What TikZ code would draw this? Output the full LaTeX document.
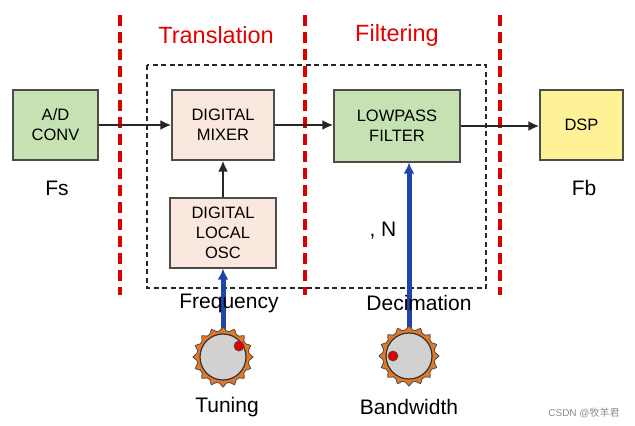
\documentclass[tikz,border=0pt]{standalone}
\usepackage{fontspec}
\setmainfont{Liberation Sans}
\newfontfamily\cjk{Noto Sans CJK SC}
\usetikzlibrary{arrows.meta}
\definecolor{grn}{RGB}{199,226,178}
\definecolor{pnk}{RGB}{250,231,222}
\definecolor{yel}{RGB}{255,241,150}
\definecolor{kblue}{RGB}{30,70,170}
\definecolor{org}{RGB}{228,120,40}
\tikzset{
 blk/.style={draw=black!70,line width=1.2pt,align=center,inner sep=0pt,font=\fontsize{16.5}{20}\selectfont},
 reddash/.style={red!85!black,line width=3.2pt,dash pattern=on 11pt off 6pt},
 sig/.style={-{Latex[length=11pt,width=10pt]},line width=2.6pt,black!85},
 ctl/.style={-{Latex[length=11pt,width=11pt]},line width=5pt,kblue},
 lbl/.style={font=\fontsize{21}{24}\selectfont},
 title/.style={font=\fontsize{23.5}{26}\selectfont,text=red!90!black}
}
\newcommand{\myknob}[4]{%
 \fill[org,draw=black!70,line width=0.8pt] plot[smooth cycle,samples=48,domain=0:352.5,variable=\t] ({#1+(27.5+2.5*cos(16*\t))*cos(\t)},{#2+(27.5+2.5*cos(16*\t))*sin(\t)});
 \fill[black!18,draw=black!80,line width=1.2pt] (#1,#2) circle (23);
 \fill[red!90!black,draw=black!70,line width=0.7pt] (#3,#4) circle (5);}
\begin{document}
\begin{tikzpicture}[x=1pt,y=-1pt]
\useasboundingbox (0,0) rectangle (635,426);
\foreach \x in {120,305,500} \draw[reddash] (\x,15) -- (\x,295);
\draw[black!85,line width=1.6pt,dash pattern=on 5pt off 3.5pt] (147,65) rectangle (486,288);
\node[blk,fill=grn,minimum width=85pt,minimum height=70pt] (ad) at (55.5,125) {A/D\\CONV};
\node[blk,fill=pnk,minimum width=102pt,minimum height=70pt] (mix) at (223,125) {DIGITAL\\MIXER};
\node[blk,fill=pnk,minimum width=106pt,minimum height=70pt] (osc) at (223,233) {DIGITAL\\LOCAL\\OSC};
\node[blk,fill=grn,minimum width=126pt,minimum height=72pt] (lpf) at (397,126) {LOWPASS\\FILTER};
\node[blk,fill=yel,minimum width=83pt,minimum height=70pt] (dsp) at (581.5,125) {DSP};
\coordinate (k1) at (223,357);
\coordinate (k2) at (409,356);
\draw[sig] (ad.east) -- (mix.west);
\draw[sig] (mix.east) -- (mix.east -| lpf.west);
\draw[sig] (lpf.east) -- (lpf.east -| dsp.west);
\draw[sig] (osc.north) -- (mix.south);
\draw[ctl] (223,332) -- (k1 |- osc.south);
\draw[ctl] (409,331) -- (k2 |- lpf.south);
\myknob{223}{357}{239}{346}
\myknob{409}{356}{393}{356}
\node[title] (tr) at (216,35) {Translation};
\node[title] (fi) at (397,35) {Filtering};
\node[lbl] (fs) at (57,188) {Fs};
\node[lbl] (fb) at (584,188) {Fb};
\node[lbl] (fr) at (229,303) {Frequency};
\node[lbl] (de) at (419,303) {Decimation};
\node[lbl] (cn) at (383,231) {, N};
\node[lbl] (tu) at (227,407) {Tuning};
\node[lbl] (bw) at (409,407) {Bandwidth};
\node[font=\fontsize{10}{11}\selectfont,text=black!45] (wm) at (584,413) {CSDN @{\cjk 牧羊君}};
\end{tikzpicture}
\end{document}
